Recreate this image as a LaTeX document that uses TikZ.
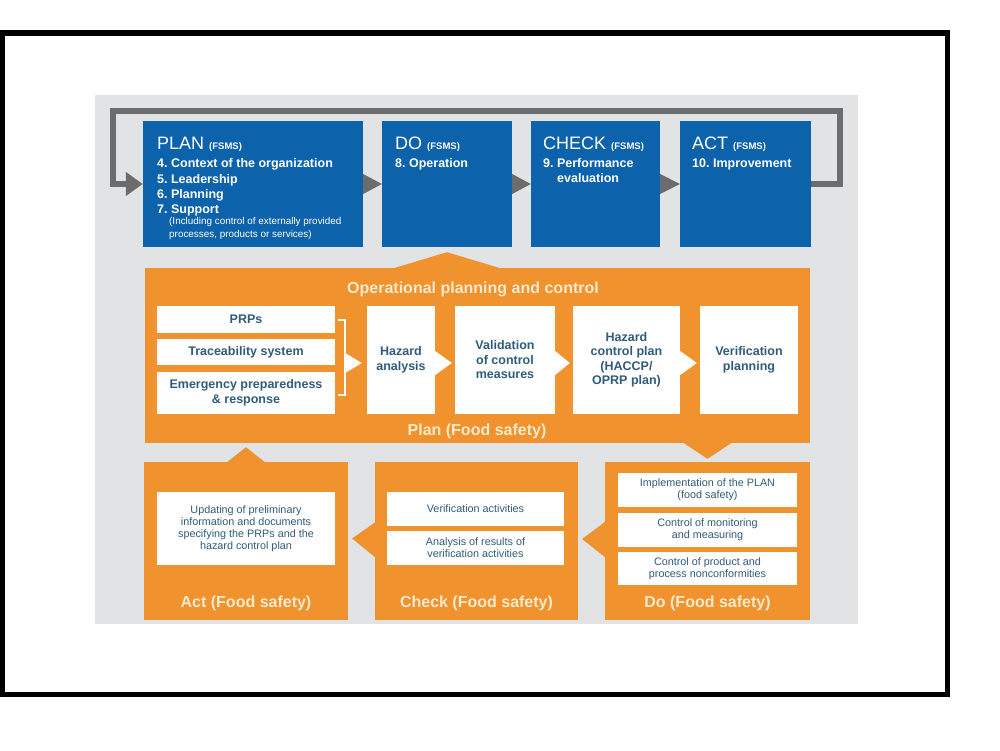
\documentclass[tikz,border=0pt]{standalone}
\usepackage{fontspec}
\setmainfont{Liberation Sans}
\usetikzlibrary{arrows.meta,calc}
\definecolor{fsblue}{RGB}{13,98,172}
\definecolor{fsorange}{RGB}{240,146,46}
\definecolor{fsgray}{RGB}{108,108,108}
\definecolor{bggray}{RGB}{226,227,229}
\definecolor{boxtext}{RGB}{48,92,122}
\definecolor{cream}{RGB}{253,234,205}
\newcommand\fsmstag{{\fontsize{9.5}{10}\selectfont\bfseries(FSMS)}}
\frenchspacing
\begin{document}
\frenchspacing
\begin{tikzpicture}[x=1pt,y=-1pt,
 bluebox/.style={fill=fsblue, inner sep=0pt, minimum height=126pt},
 orangebox/.style={fill=fsorange, inner sep=0pt},
 whitebox/.style={fill=white, inner sep=0pt, text=boxtext, align=center, font=\fontsize{12.5}{14.5}\selectfont\bfseries},
 smallwhite/.style={fill=white, inner sep=0pt, text=boxtext, align=center, font=\fontsize{10.8}{11.8}\selectfont},
 boxtitle/.style={anchor=base west, inner sep=0pt, text=white, font=\fontsize{18}{20}\selectfont},
 boxitem/.style={anchor=base west, inner sep=0pt, text=white, font=\fontsize{12.5}{14}\selectfont\bfseries},
 boxnote/.style={anchor=base west, inner sep=0pt, text=white, font=\fontsize{9.9}{11}\selectfont},
 fslabel/.style={anchor=base, inner sep=0pt, text=cream, font=\fontsize{16}{18}\selectfont\bfseries},
 flowtri/.style={fill=fsgray},
 whitetri/.style={fill=white},
 looptri/.style={fill=fsorange},
 loopline/.style={draw=fsgray, line width=6pt, line join=miter, -{Triangle[length=17pt,width=23pt]}}
]
\useasboundingbox (0,0) rectangle (1000,750);
% outer frame and background
\draw[line width=5.5pt] (2.5,33) rectangle (947.5,694.5);
\fill[bggray] (95,95) rectangle (858,624);

% FSMS blue boxes
\node[bluebox, minimum width=220pt] (plan) at (253,184) {};
\node[bluebox, minimum width=130pt] (do) at (447,184) {};
\node[bluebox, minimum width=129pt] (check) at (595.5,184) {};
\node[bluebox, minimum width=131pt] (act) at (745.5,184) {};

\node[boxtitle] (plant) at (157,149) {PLAN \fsmstag};
\node[boxitem] (p4) at (157,167) {4. Context of the organization};
\node[boxitem] (p5) at (157,183) {5. Leadership};
\node[boxitem] (p6) at (157,198) {6. Planning};
\node[boxitem] (p7) at (157,213) {7. Support};
\node[boxnote] (p7a) at (169,224) {(Including control of externally provided};
\node[boxnote] (p7b) at (169,237) {processes, products or services)};

\node[boxtitle] (dot) at (395,149) {DO \fsmstag};
\node[boxitem] (d8) at (395,167) {8. Operation};

\node[boxtitle] (checkt) at (543,149) {CHECK \fsmstag};
\node[boxitem] (c9) at (543,167) {9. Performance};
\node[boxitem] (c9b) at (557,182) {evaluation};

\node[boxtitle] (actt) at (692,149) {ACT \fsmstag};
\node[boxitem] (a10) at (692,167) {10. Improvement};

% flow arrows between blue boxes
\fill[flowtri] ($(plan.east)+(0,-10)$) -- (do.west) -- ($(plan.east)+(0,10)$) -- cycle;
\fill[flowtri] ($(do.east)+(0,-10)$) -- (check.west) -- ($(do.east)+(0,10)$) -- cycle;
\fill[flowtri] ($(check.east)+(0,-10)$) -- (act.west) -- ($(check.east)+(0,10)$) -- cycle;

% loop back
\coordinate (loopR) at (840,110.5);
\coordinate (loopL) at (112.5,110.5);
\draw[loopline] (act.east) -| (loopR) -- (loopL) |- (plan.west);

% Plan (food safety) panel
\node[orangebox, minimum width=665pt, minimum height=175pt] (planfs) at (477.5,355.5) {};
\fill[looptri] ($(do.south |- planfs.north)+(-52,0)$) -- ($(do.south)+(0,5)$) -- ($(do.south |- planfs.north)+(52,0)$) -- cycle;

\node[fslabel] (opc) at (473,293) {Operational planning and control};
\node[fslabel] (planlbl) at (477,435) {Plan (Food safety)};

\node[whitebox, minimum width=178pt, minimum height=27pt] (prps) at (246,319.5) {PRPs};
\node[whitebox, minimum width=178pt, minimum height=26pt] (trace) at (246,352) {Traceability system};
\node[whitebox, minimum width=178pt, minimum height=42pt] (emerg) at (246,393) {Emergency preparedness\\\& response};
\node[whitebox, minimum width=68pt, minimum height=108pt] (haz) at (401,360) {Hazard\\analysis};
\node[whitebox, minimum width=100pt, minimum height=108pt] (val) at (505,360) {Validation\\of control\\measures};
\node[whitebox, minimum width=107pt, minimum height=108pt] (hcp) at (626.5,360) {Hazard\\control plan\\(HACCP/\\OPRP plan)};
\node[whitebox, minimum width=98pt, minimum height=108pt] (verif) at (749,360) {Verification\\planning};

\draw[white, line width=1.5pt] ($(prps.east)+(3,0.5)$) -- ++(7,0) |- ($(emerg.east)+(3,2)$);
\fill[whitetri] ($(prps.east |- haz.west)+(10,-7)$) -- ($(haz.west)+(-5,3)$) -- ($(prps.east |- haz.west)+(10,13)$) -- cycle;
\fill[whitetri] ($(haz.east)+(0,-9)$) -- ($(val.west)+(-3,3)$) -- ($(haz.east)+(0,15)$) -- cycle;
\fill[whitetri] ($(val.east)+(0,-9)$) -- ($(hcp.west)+(-3,3)$) -- ($(val.east)+(0,15)$) -- cycle;
\fill[whitetri] ($(hcp.east)+(0,-9)$) -- ($(verif.west)+(-3,3)$) -- ($(hcp.east)+(0,15)$) -- cycle;

% bottom panels
\node[orangebox, minimum width=204pt, minimum height=158pt] (actfs) at (246,541) {};
\node[orangebox, minimum width=203pt, minimum height=158pt] (checkfs) at (476.5,541) {};
\node[orangebox, minimum width=205pt, minimum height=158pt] (dofs) at (707.5,541) {};

\fill[looptri] ($(dofs.north |- planfs.south)+(-23.5,0)$) -- ($(dofs.north)+(0,-3)$) -- ($(dofs.north |- planfs.south)+(23.5,0)$) -- cycle;
\fill[looptri] ($(actfs.north)+(-18.5,0)$) -- ($(actfs.north |- planfs.south)+(0,4)$) -- ($(actfs.north)+(18.5,0)$) -- cycle;
\fill[looptri] ($(checkfs.west)+(0,-18.5)$) -- ($(actfs.east)+(4,-2.5)$) -- ($(checkfs.west)+(0,16)$) -- cycle;
\fill[looptri] ($(dofs.west)+(0,-19)$) -- ($(checkfs.east)+(4,-2)$) -- ($(dofs.west)+(0,16)$) -- cycle;

\node[smallwhite, minimum width=178pt, minimum height=73pt] (upd) at (246,528.5) {Updating of preliminary\\information and documents\\specifying the PRPs and the\\hazard control plan};
\node[smallwhite, minimum width=177pt, minimum height=34pt] (va) at (475.5,509) {Verification activities};
\node[smallwhite, minimum width=177pt, minimum height=34pt] (an) at (475.5,548) {Analysis of results of\\verification activities};
\node[smallwhite, minimum width=179pt, minimum height=34pt] (impl) at (707.5,490) {Implementation of the PLAN\\(food safety)};
\node[smallwhite, minimum width=179pt, minimum height=34pt] (mon) at (707.5,530) {Control of monitoring\\and measuring};
\node[smallwhite, minimum width=179pt, minimum height=33pt] (nonc) at (707.5,568.5) {Control of product and\\process nonconformities};

\node[fslabel] (actlbl) at (246,607) {Act (Food safety)};
\node[fslabel] (checklbl) at (476.5,607) {Check (Food safety)};
\node[fslabel] (dolbl) at (707.5,607) {Do (Food safety)};
\end{tikzpicture}
\end{document}
